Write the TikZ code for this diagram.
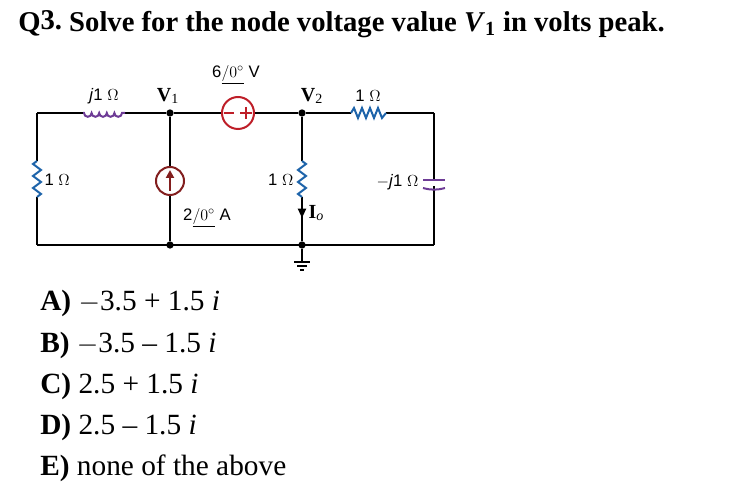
\documentclass[tikz,border=0pt]{standalone}
\usepackage{fontspec}
\setmainfont{Liberation Serif}
\newfontfamily\sff{Liberation Sans}
\usetikzlibrary{arrows.meta}
\definecolor{rblue}{RGB}{30,100,170}
\definecolor{ipurp}{RGB}{110,60,150}
\definecolor{sred}{RGB}{190,30,40}
\definecolor{cred}{RGB}{130,30,30}
\newcommand{\angl}[1]{\underline{/#1}}
\tikzset{wire/.style={line width=1.5pt,black},
 lab/.style={font=\sff\fontsize{12.5}{14}\selectfont,inner sep=1pt},
 opt/.style={font=\fontsize{22}{24}\selectfont,anchor=west,inner sep=0pt},
 dotn/.style={circle,fill=black,inner sep=0pt,minimum size=5.5pt}}
\begin{document}
\begin{tikzpicture}[x=0.75pt,y=-0.75pt]
\useasboundingbox (0,0) rectangle (744,502);
\node[anchor=west,inner sep=0pt,font=\bfseries\fontsize{21.5}{24}\selectfont] (title) at (18,24) {Q\raisebox{1.5pt}{3.} Solve for the node voltage value \textit{V}\textsubscript{1} in volts peak.};
% nodes
\coordinate (tl) at (37,113); \coordinate (bl) at (37,245);
\node[dotn] (v1) at (170,113) {}; \node[dotn] (b1) at (170,245) {};
\node[dotn] (v2) at (302,113) {}; \node[dotn] (b2) at (302,245) {};
\coordinate (tr) at (434,113); \coordinate (br) at (434,245);
\coordinate (gnd) at (302,262);
% wires
\draw[wire] (tl) -- (83,113); \draw[wire] (125,113) -- (v1);
\draw[wire,ipurp] (83,113) -- ++(1,0) arc (180:0:3.8) arc(180:0:3.8) arc(180:0:3.8) arc(180:0:3.8) arc(180:0:3.8) -- (125,113);
\draw[wire] (v1) -- (222,113); \draw[wire] (254,113) -- (v2);
\draw[wire] (v2) -- (351,113); \draw[wire] (386,113) -- (tr);
\draw[wire,rblue] (351,113) -- (354,108) -- (358,118) -- (362,108) -- (366,118) -- (370,108) -- (374,118) -- (378,108) -- (382,118) -- (386,113);
\draw[wire] (tl) -- (37,161); \draw[wire] (37,197) -- (bl);
\draw[wire,rblue] (37,161) -- (33,164) -- (41,170) -- (33,176) -- (41,182) -- (33,188) -- (41,194) -- (37,197);
\draw[wire] (v2) -- (302,161); \draw[wire] (302,197) -- (b2);
\draw[wire,rblue] (302,161) -- (306,164) -- (298,170) -- (306,176) -- (298,182) -- (306,188) -- (298,194) -- (302,197);
\draw[wire] (bl) -- (br); \draw[wire] (tr) -- (434,180); \draw[wire] (434,186) -- (br);
\draw[line width=1.5pt,ipurp] (423,180) -- (445,180);
\draw[line width=1.5pt,ipurp] (423,188) to[bend right=15] (445,188);
\draw[wire] (v1) -- (170,167); \draw[wire] (170,195) -- (b1);
\draw[line width=1.5pt,cred] (170,181) circle (14);
\draw[line width=1.5pt,cred,-{Triangle[length=6pt,width=6pt]}] (170,191) -- (170,170);
\draw[line width=1.5pt,sred] (238,113) circle (16);
\draw[line width=1.4pt,sred] (224,113) -- (234,113);
\draw[line width=1.4pt,sred] (240,113) -- (252,113) (246,107) -- (246,119);
\draw[wire] (b2) -- (gnd);
\draw[wire] (294,262) -- (310,262); \draw[wire] (297,266) -- (307,266); \draw[wire] (300,270) -- (304,270);
\draw[-{Triangle[length=7pt,width=6pt]},line width=1.5pt] (302,205) -- (302,218);
% labels
\node[lab] (l1) at (104,96) {\textit{j}1 $\Omega$};
\node[lab,font=\bfseries\fontsize{15}{15}\selectfont] (lv1) at (168,96) {V\textsubscript{\mdseries 1}};
\node[lab] (lvs) at (236,75) {6$\angl{0^\circ}$ V};
\node[lab,font=\bfseries\fontsize{15}{15}\selectfont] (lv2) at (312,96) {V\textsubscript{\mdseries 2}};
\node[lab] (lr2) at (368,96) {1 $\Omega$};
\node[lab,anchor=west] (lr1) at (43,180) {1 $\Omega$};
\node[lab,anchor=east] (lr3) at (295,180) {1 $\Omega$};
\node[lab,anchor=east] (lc) at (420,182) {$-$\textit{j}1 $\Omega$};
\node[lab] (lis) at (207,218) {2$\angl{0^\circ}$ A};
\node[lab,font=\bfseries\fontsize{15}{15}\selectfont,anchor=west] (lio) at (307,213) {I\textsubscript{\mdseries\itshape o}};
% options
\node[opt] (a) at (40,303) {\textbf{A)} $-$3.5 + 1.5 \textit{i}};
\node[opt] (b) at (40,345) {\textbf{B)} $-$3.5 -- 1.5 \textit{i}};
\node[opt] (c) at (40,386) {\textbf{C)} 2.5 + 1.5 \textit{i}};
\node[opt] (d) at (40,427) {\textbf{D)} 2.5 -- 1.5 \textit{i}};
\node[opt] (e) at (40,468) {\textbf{E)} none of the above};
\end{tikzpicture}
\end{document}
